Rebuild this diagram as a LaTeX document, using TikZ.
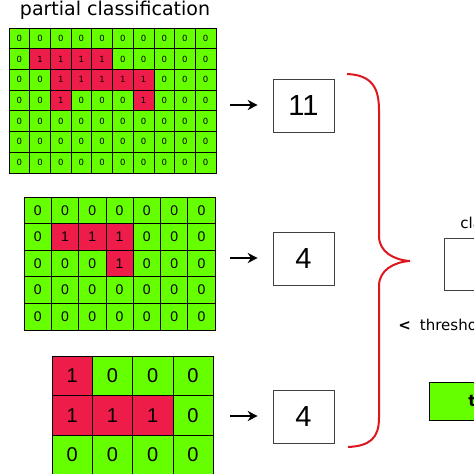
\documentclass[tikz,border=0pt]{standalone}
\usepackage{fontspec}
\setmainfont{DejaVu Sans}
\newfontfamily\numfont{Liberation Sans}
\usetikzlibrary{arrows.meta}

\definecolor{cellgreen}{RGB}{102,255,0}
\definecolor{cellred}{RGB}{238,28,72}
\definecolor{bracered}{RGB}{222,22,30}

\tikzset{
  cell0/.style={draw=black, fill=cellgreen, inner sep=0pt},
  cell1/.style={draw=black, fill=cellred, inner sep=0pt},
  countbox/.style={draw=black!75, semithick, minimum width=61pt, minimum height=53pt, inner sep=0pt,
    font=\numfont\fontsize{29}{29}\selectfont},
}

\begin{document}
\begin{tikzpicture}[>={Stealth[length=10pt, width=10pt]}, x=1pt, y=-1pt, thick]
    \useasboundingbox (0,0) rectangle (474,474);
    \clip (0,0) rectangle (474,474);

    \node (title) at (115,10) {\fontsize{19}{19}\selectfont partial classification};

    % first window 10 x 7
    \foreach \row [count=\r] in {{0,0,0,0,0,0,0,0,0,0},{0,1,1,1,1,0,0,0,0,0},{0,0,1,1,1,1,1,0,0,0},
                                 {0,0,1,0,0,0,1,0,0,0},{0,0,0,0,0,0,0,0,0,0},{0,0,0,0,0,0,0,0,0,0},
                                 {0,0,0,0,0,0,0,0,0,0}}
        \foreach \v [count=\c] in \row
            \node[cell\v, minimum size=20.7pt, font=\fontsize{8.5}{8.5}\selectfont] (a-\r-\c)
                at ({9+(\c-0.5)*20.7}, {28+(\r-0.5)*20.7}) {\v};

    % second window 7 x 5
    \foreach \row [count=\r] in {{0,0,0,0,0,0,0},{0,1,1,1,0,0,0},{0,0,0,1,0,0,0},
                                 {0,0,0,0,0,0,0},{0,0,0,0,0,0,0}}
        \foreach \v [count=\c] in \row
            \node[cell\v, minimum width=27.3pt, minimum height=26.6pt, font=\numfont\fontsize{14}{14}\selectfont] (b-\r-\c)
                at ({24+(\c-0.5)*27.3}, {197+(\r-0.5)*26.6}) {\v};

    % third window 4 x 3
    \foreach \row [count=\r] in {{1,0,0,0},{1,1,1,0},{0,0,0,0}}
        \foreach \v [count=\c] in \row
            \node[cell\v, minimum width=40.3pt, minimum height=39.5pt, font=\numfont\fontsize{20}{20}\selectfont] (c-\r-\c)
                at ({52+(\c-0.5)*40.3}, {356+(\r-0.5)*39.5}) {\v};

    % counts
    \node[countbox] (n11) at (303.5,105.5) {11};
    \node[countbox] (n4a) at (303.5,258.5) {4};
    \node[countbox] (n4b) at (303.5,417) {4};

    \coordinate (a-out) at (230,105);
    \coordinate (b-out) at (230,258);
    \coordinate (c-out) at (230,416);

    \draw[->, line width=2pt, shorten >=15pt] (a-out) -- (a-out -| n11.west);
    \draw[->, line width=2pt, shorten >=15pt] (b-out) -- (b-out -| n4a.west);
    \draw[->, line width=2pt, shorten >=15pt] (c-out) -- (c-out -| n4b.west);

    % brace
    \draw[bracered, line width=2pt] (347,74) .. controls (372,75) and (379,88) .. (379,110)
        -- (379,236) .. controls (379,252) and (394,260) .. (410,261)
        .. controls (394,262) and (379,270) .. (379,286)
        -- (379,418) .. controls (379,438) and (370,446) .. (348,447);

    % result side
    \node[draw=black!75, semithick, anchor=north west, minimum width=90pt, minimum height=52pt] (total) at (444,238) {};
    \node[anchor=south west, inner sep=0pt, font=\fontsize{15}{15}\selectfont] (totallabel) at (460,229) {class};
    \node[anchor=west, inner sep=0pt, font=\fontsize{15}{15}\selectfont] (thresh) at (398,325) {\textbf{<}\hspace{9pt}threshold};
    \node[draw=black, fill=cellgreen, anchor=north west, minimum width=100pt, minimum height=38pt] (result) at (429,382) {};
    \node[anchor=west, inner sep=0pt, font=\bfseries\fontsize{16}{16}\selectfont] (resultlabel) at (468,401) {true};
\end{tikzpicture}
\end{document}
